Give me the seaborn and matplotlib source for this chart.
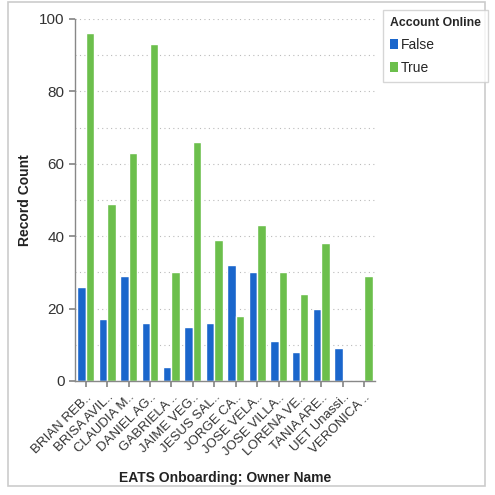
import matplotlib
matplotlib.use("Agg")
import matplotlib.pyplot as plt
import seaborn as sns
import pandas as pd
from matplotlib.patches import Rectangle, Patch

categories = ["BRIAN REB..", "BRISA AVIL..", "CLAUDIA M..", "DANIEL AG..", "GABRIELA ..",
              "JAIME VEG..", "JESUS SAL..", "JORGE CA..", "JOSE VELA..", "JOSE VILLA..",
              "LORENA VE..", "TANIA ARE..", "UET Unassi..", "VERONICA .."]
false_vals = [26, 17, 29, 16, 4, 15, 16, 32, 30, 11, 8, 20, 9, 0]
true_vals = [96, 49, 63, 93, 30, 66, 39, 18, 43, 30, 24, 38, 0, 29]
hue_labels = ["False", "True"]
colors = ["#1a66cc", "#6cbf4c"]

sns.set_theme(style="white")
plt.rcParams['font.family'] = ['Liberation Sans', 'DejaVu Sans']

df = pd.DataFrame({
    "cat": categories * 2,
    "val": false_vals + true_vals,
    "hue": [hue_labels[0]] * len(categories) + [hue_labels[1]] * len(categories),
})

fig = plt.figure(figsize=(4.95, 4.95), dpi=100)
ax = fig.add_axes([75/495, 1-381/495, 300/495, (381-19)/495])

sns.barplot(data=df, x="cat", y="val", hue="hue", palette=colors, width=0.78,
            ax=ax, legend=False, saturation=1)

ax.set_ylim(0, 100)
ax.set_yticks([0, 20, 40, 60, 80, 100])
ax.set_yticks(range(10, 100, 10), minor=True)
ax.yaxis.grid(True, which="both", linestyle=(0, (1, 3)), color="#bbbbbb", linewidth=0.8)
ax.set_axisbelow(True)
for s in ["top", "right"]:
    ax.spines[s].set_visible(False)
for s in ["left", "bottom"]:
    ax.spines[s].set_color("#888888")
    ax.spines[s].set_linewidth(1)
ax.tick_params(axis="y", which="major", left=True, length=4, color="#888888", labelsize=11, colors="#333333")
ax.tick_params(axis="y", which="minor", left=False)
ax.tick_params(axis="x", bottom=True, length=4, color="#888888", labelsize=9.5, colors="#333333")
plt.setp(ax.get_xticklabels(), rotation=45, ha="right", rotation_mode="anchor")
ax.set_xlabel("EATS Onboarding: Owner Name", fontsize=10, fontweight="bold", color="#222222")
ax.set_ylabel("Record Count", fontsize=10, fontweight="bold", color="#222222", labelpad=5)
ax.xaxis.set_label_coords(0.5, (381-471)/362)

handles = [Patch(facecolor=c, edgecolor="none") for c in colors]
leg = fig.legend(handles, hue_labels, title="Account Online", loc="upper left",
                 bbox_to_anchor=(383/495, 1-10/495), borderaxespad=0, frameon=True, fontsize=10,
                 title_fontproperties={"weight": "bold", "size": 8.8},
                 handlelength=0.6, handleheight=0.7, handletextpad=0.2,
                 borderpad=0.5, labelspacing=0.65, alignment="left", fancybox=False)
leg.get_frame().set_edgecolor("#cccccc")
leg.get_frame().set_linewidth(1)

fig.patches.append(Rectangle((8/495, 1-486/495), 477/495, 484/495, transform=fig.transFigure,
                             fill=False, edgecolor="#cccccc", linewidth=1.2))

fig.savefig("out.png", dpi=100)
